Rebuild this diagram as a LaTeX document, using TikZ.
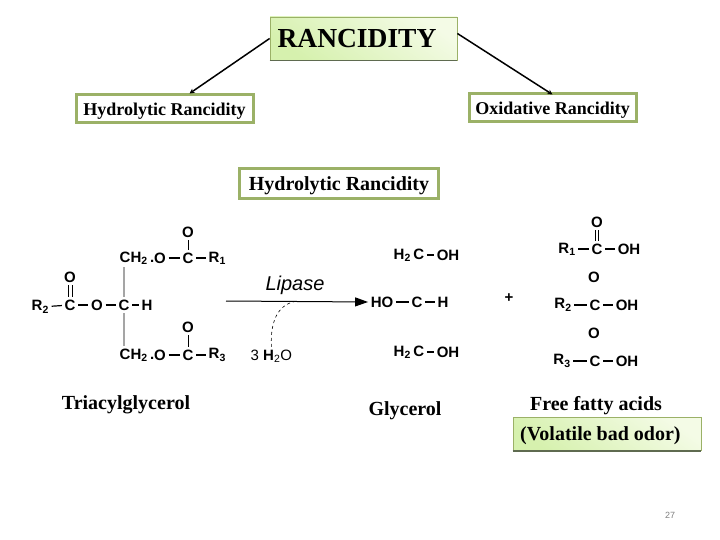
\documentclass[tikz,border=0pt]{standalone}
\usepackage{fontspec}
\setmainfont{Liberation Serif}
\setsansfont{Liberation Sans}
\usetikzlibrary{arrows.meta}

\definecolor{frameolive}{HTML}{9BB167}
\definecolor{greentop}{HTML}{D6F1AE}
\definecolor{greenbot}{HTML}{F4FBE6}
\definecolor{shadowgrey}{HTML}{5F6B50}

\tikzset{
	atom/.style={inner sep=2.5pt, font=\sffamily\bfseries\fontsize{15}{15}\selectfont},
	bond/.style={line width=1.2pt},
	thinbond/.style={line width=0.8pt},
	title/.style={font=\bfseries\fontsize{18}{20}\selectfont, inner sep=0pt, text depth=0pt},
	bigtitle/.style={font=\bfseries\fontsize{20}{22}\selectfont, inner sep=0pt, text depth=0pt},
	framebox/.style={draw=frameolive, line width=3pt, fill=white, inner sep=0pt},
	greenbox/.style={draw=frameolive, line width=0.8pt, bottom color=greentop, top color=greenbot, shading angle=-35, inner sep=0pt},
	edgeline/.style={shadowgrey, line width=1.5pt},
	linkarrow/.style={line width=1.5pt, -{Stealth[length=5pt,width=5pt]}}
}

\begin{document}
\begin{tikzpicture}[x=1pt,y=-1pt]
	\useasboundingbox (0,0) rectangle (720,540);
	% boxes on top
	\node[greenbox, minimum width=187pt, minimum height=43pt] (rancidity) at (363.5,38.5) {};
	\node[font=\bfseries\fontsize{27.5}{30}\selectfont, inner sep=0pt] (rancidtext) at (357,39) {RANCIDITY};
	\draw[edgeline] (rancidity.south west) -- (rancidity.south east);
	\node[framebox, title, minimum width=177pt, minimum height=28pt] (hydroleft) at (164.5,109) {Hydrolytic Rancidity};
	\node[framebox, title, minimum width=167pt, minimum height=28pt] (oxid) at (552.5,108) {Oxidative Rancidity};
	\node[framebox, bigtitle, minimum width=199pt, minimum height=30pt] (hydromid) at (339,184) {Hydrolytic Rancidity};
	\draw[linkarrow] (rancidity.west) -- ([xshift=25pt]hydroleft.north);
	\draw[linkarrow] ([yshift=5pt]rancidity.east) -- ([yshift=-2pt]oxid.north);

	% triacylglycerol
	\node[atom] (o1) at (188,232) {O};
	\node[atom, anchor=west] (ch2a) at (117,258) {CH\textsubscript{2}\,.};
	\node[atom] (oa) at (160,258) {O};
	\node[atom] (ca) at (188,258) {C};
	\node[atom, anchor=west] (r1) at (206,258) {R\textsubscript{1}};
	\node[atom] (o2) at (70,277) {O};
	\node[atom, anchor=west] (r2) at (29,307) {R\textsubscript{2}};
	\node[atom] (cb) at (70,305) {C};
	\node[atom] (ob) at (97,305) {O};
	\node[atom] (cc) at (124,305) {C};
	\node[atom] (hc) at (147,305) {H};
	\node[atom] (o3) at (188,327) {O};
	\node[atom, anchor=west] (ch2b) at (117,355) {CH\textsubscript{2}\,.};
	\node[atom] (od) at (160,355) {O};
	\node[atom] (cd) at (188,355) {C};
	\node[atom, anchor=west] (r3) at (206,355) {R\textsubscript{3}};
	\draw[thinbond] (o1) -- (ca);
	\draw[bond] (oa) -- (ca);
	\draw[bond] (ca) -- (r1);
	\draw[thinbond] ([xshift=-2pt]o2.south) -- ([xshift=-2pt]cb.north);
	\draw[thinbond] ([xshift=2pt]o2.south) -- ([xshift=2pt]cb.north);
	\draw[bond] (r2) -- (cb);
	\draw[bond] (cb) -- (ob);
	\draw[bond] (ob) -- (cc);
	\draw[bond] (cc) -- (hc);
	\draw[thinbond] ([xshift=-13pt]ch2a.south) -- (cc);
	\draw[thinbond] (cc) -- ([xshift=-13pt]ch2b.north);
	\draw[thinbond] (o3) -- (cd);
	\draw[bond] (od) -- (cd);
	\draw[bond] (cd) -- (r3);
	\node[bigtitle] (triacyl) at (126,403) {Triacylglycerol};

	% reaction arrow
	\coordinate (arrowstart) at (226,301);
	\coordinate (waterjoin) at (298,301);
	\node[atom, anchor=west, font=\sffamily\fontsize{15}{15}\selectfont] (water) at (248,356) {3 {\bfseries H}\textsubscript{2}O};
	\node[font=\sffamily\itshape\fontsize{20}{22}\selectfont, inner sep=0pt] (lipase) at (295,285) {Lipase};

	% glycerol
	\node[atom, anchor=west] (h2ca) at (391,255) {H\textsubscript{2}\,C};
	\node[atom] (oha) at (448,255) {OH};
	\node[atom] (hob) at (382,302) {HO};
	\node[atom] (cglyc) at (417,302) {C};
	\node[atom] (hglyc) at (443,302) {H};
	\node[atom, anchor=west] (h2cc) at (391,352) {H\textsubscript{2}\,C};
	\node[atom] (ohc) at (448,352) {OH};
	\draw[bond] (h2ca) -- (oha);
	\draw[bond] (hob) -- (cglyc);
	\draw[bond] (cglyc) -- (hglyc);
	\draw[bond] (h2cc) -- (ohc);
	\draw[line width=1pt, -{Triangle[length=13pt,width=9pt]}] (arrowstart) -- (hob.west);
	\draw[line width=0.6pt, dashed] (water.north) .. controls (270,318) and (280,303) .. (waterjoin);
	\node[bigtitle] (glycerol) at (405,409) {Glycerol};
	\node[atom] (plus) at (509,298) {+};

	% fatty acids
	\node[atom] (oacid) at (597,222) {O};
	\node[atom] (racid) at (567,249) {R\textsubscript{1}};
	\node[atom] (cacid) at (597,249) {C};
	\node[atom] (ohacid) at (629,249) {OH};
	\node[atom] (obcid) at (594,277) {O};
	\node[atom] (rbcid) at (563,305) {R\textsubscript{2}};
	\node[atom] (cbcid) at (595,305) {C};
	\node[atom] (ohbcid) at (627,305) {OH};
	\node[atom] (occid) at (594,333) {O};
	\node[atom] (rccid) at (562,361) {R\textsubscript{3}};
	\node[atom] (cccid) at (595,361) {C};
	\node[atom] (ohccid) at (627,361) {OH};
	\draw[line width=0.7pt] ([xshift=-1.5pt]oacid.south) -- ([xshift=-1.5pt]cacid.north);
	\draw[line width=0.7pt] ([xshift=1.5pt]oacid.south) -- ([xshift=1.5pt]cacid.north);
	\draw[bond] (racid) -- (cacid);
	\draw[bond] (cacid) -- (ohacid);
	\draw[bond] (rbcid) -- (cbcid);
	\draw[bond] (cbcid) -- (ohbcid);
	\draw[bond] (rccid) -- (cccid);
	\draw[bond] (cccid) -- (ohccid);
	\node[bigtitle] (freeacids) at (596,403) {Free fatty acids};
	\node[greenbox, minimum width=188pt, minimum height=33pt] (volatile) at (607,434) {};
	\node[bigtitle, anchor=west] (volatext) at (520,434) {(Volatile bad odor)};
	\draw[edgeline] (volatile.south west) -- (volatile.south east);

	\node[font=\sffamily\fontsize{9}{11}\selectfont, text=gray, inner sep=0pt] (pagenum) at (670,515) {27};
\end{tikzpicture}
\end{document}
